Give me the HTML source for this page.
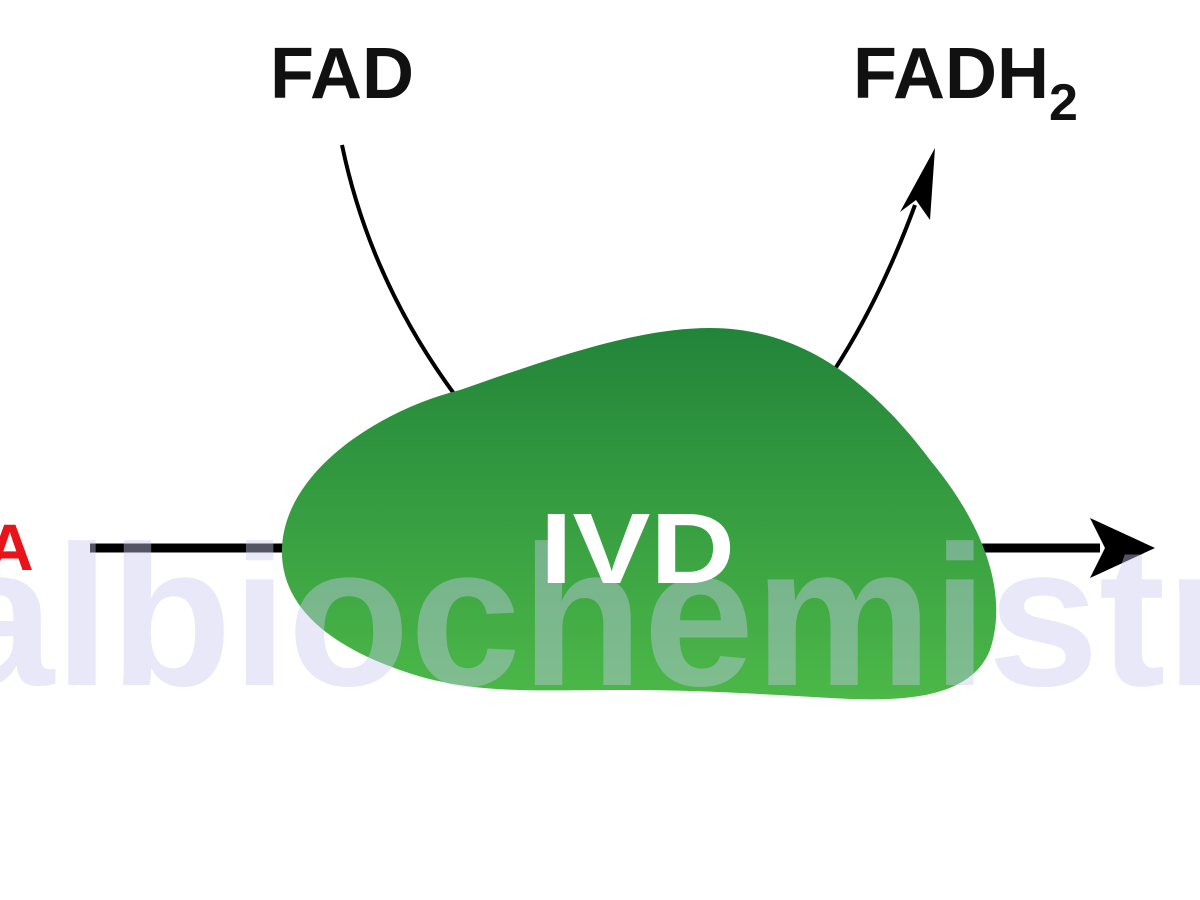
<!DOCTYPE html>
<html><head><style>html,body{margin:0;padding:0;background:#fff;width:1200px;height:900px;overflow:hidden}</style></head>
<body>
<svg width="1200" height="900" viewBox="0 0 1200 900" xmlns="http://www.w3.org/2000/svg">
<defs>
<linearGradient id="g" x1="0" y1="0" x2="0" y2="1">
<stop offset="0" stop-color="#22843a"/><stop offset="1" stop-color="#4cb848"/>
</linearGradient>
</defs>
<text x="-14" y="570" font-family="Liberation Sans, sans-serif" font-weight="bold" font-size="66" fill="#e8141c">A</text>
<line x1="90" y1="548" x2="290" y2="548" stroke="#000" stroke-width="9"/>
<line x1="960" y1="548" x2="1100" y2="548" stroke="#000" stroke-width="9"/>
<path d="M1155 548 L1090 518 L1105 548 L1090 578 Z" fill="#000"/>
<path d="M342 145 Q370 280 455 395" fill="none" stroke="#000" stroke-width="4"/>
<path d="M833 372 Q880 300 915 205" fill="none" stroke="#000" stroke-width="4"/>
<path d="M935 148 L900 212 L916 200 L930 220 Z" fill="#000"/>
<path d="M282 548 C285 470 380 410 460 390 C560 355 640 328 710 328 C800 328 870 380 930 460 C980 520 1010 590 990 650 C970 700 900 702 830 698 C760 694 700 690 620 690 C530 690 470 695 400 670 C320 642 280 600 282 548 Z" fill="url(#g)"/>
<text x="-57" y="685" font-family="Liberation Sans, sans-serif" font-weight="bold" font-size="200" fill="#c8c8f0" fill-opacity="0.42">albiochemistry</text>
<text x="540" y="583" font-family="Liberation Sans, sans-serif" font-weight="bold" font-size="100" fill="#fff" textLength="195" lengthAdjust="spacingAndGlyphs">IVD</text>
<text x="270" y="98" font-family="Liberation Sans, sans-serif" font-weight="bold" font-size="72" fill="#111">FAD</text>
<text x="853" y="98" font-family="Liberation Sans, sans-serif" font-weight="bold" font-size="72" fill="#111">FADH<tspan font-size="52" dy="22">2</tspan></text>
</svg>
</body></html>
